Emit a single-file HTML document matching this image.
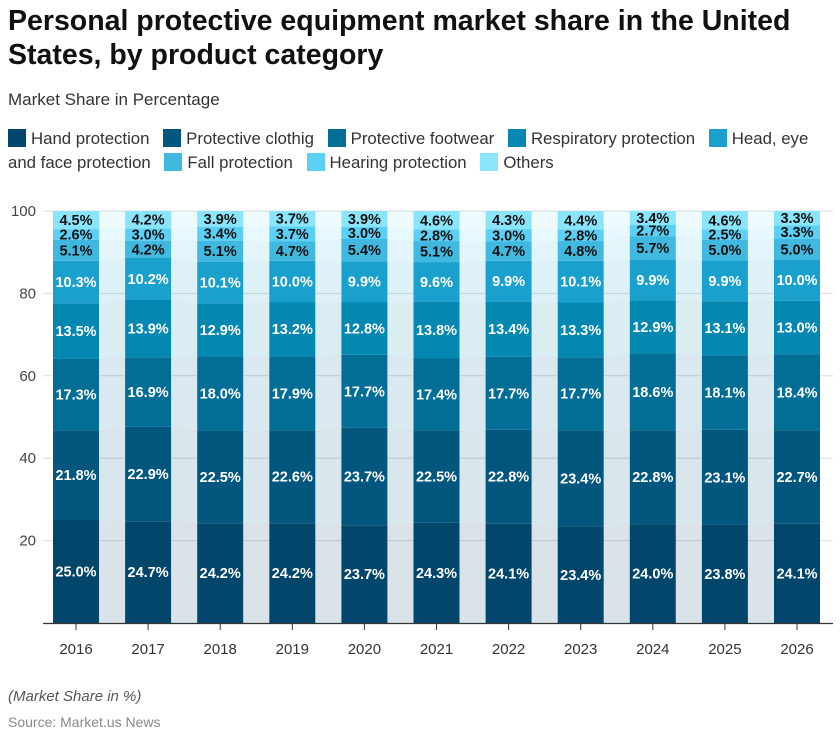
<!DOCTYPE html>
<html><head><meta charset="utf-8"><style>
body{margin:0;width:840px;height:742px;background:#fff;font-family:"Liberation Sans",sans-serif;overflow:hidden;position:relative}
.t{position:absolute;left:8px;top:4px;font-size:28.5px;font-weight:bold;color:#111;line-height:34px;width:830px}
.sub{position:absolute;left:8px;top:90px;font-size:17px;color:#333}
.lg{position:absolute;left:8px;top:127px;width:830px;font-size:16.8px;color:#333;line-height:24px}
.lg span.s{display:inline-block;width:18px;height:18px;vertical-align:-3px;margin-right:5px}
.lg i{font-style:normal;margin-right:9px}
.note{position:absolute;left:8px;top:688px;font-size:15px;font-style:italic;color:#555}
.src{position:absolute;left:8px;top:714px;font-size:14px;color:#888}
</style></head><body>
<div class="t">Personal protective equipment market share in the United States, by product category</div>
<div class="sub">Market Share in Percentage</div>
<div class="lg">
<i><span class="s" style="background:#02466b"></span>Hand protection</i>
<i><span class="s" style="background:#03577f"></span>Protective clothig</i>
<i><span class="s" style="background:#026e96"></span>Protective footwear</i>
<i><span class="s" style="background:#0487b0"></span>Respiratory protection</i>
<i><span class="s" style="background:#1aa0cc"></span>Head, eye and face protection</i>
<i><span class="s" style="background:#40b8e0"></span>Fall protection</i>
<i><span class="s" style="background:#5ccff5"></span>Hearing protection</i>
<i><span class="s" style="background:#8ae5fb"></span>Others</i>
</div>
<svg id="c" width="840" height="742" style="position:absolute;left:0;top:0" font-family="Liberation Sans, sans-serif"></svg>
<div class="note">(Market Share in %)</div>
<div class="src">Source: Market.us News</div>
<script>
var cols=["#02466b","#03577f","#026e96","#0487b0","#1aa0cc","#40b8e0","#5ccff5","#8ae5fb"];
var d=[[25.0,21.8,17.3,13.5,10.3,5.1,2.6,4.5],[24.7,22.9,16.9,13.9,10.2,4.2,3.0,4.2],[24.2,22.5,18.0,12.9,10.1,5.1,3.4,3.9],[24.2,22.6,17.9,13.2,10.0,4.7,3.7,3.7],[23.7,23.7,17.7,12.8,9.9,5.4,3.0,3.9],[24.3,22.5,17.4,13.8,9.6,5.1,2.8,4.6],[24.1,22.8,17.7,13.4,9.9,4.7,3.0,4.3],[23.4,23.4,17.7,13.3,10.1,4.8,2.8,4.4],[24.0,22.8,18.6,12.9,9.9,5.7,2.7,3.4],[23.8,23.1,18.1,13.1,9.9,5.0,2.5,4.6],[24.1,22.7,18.4,13.0,10.0,5.0,3.3,3.3]];
var y0=623,k=4.12,x0=53,st=72.1,w=46,s="";
function Y(v){return y0-v*k}
for(var g=1;g<=5;g++){var yy=Y(g*20);s+='<line x1="43" x2="833" y1="'+yy+'" y2="'+yy+'" stroke="#ddd"/>';s+='<text x="36" y="'+(yy+5)+'" text-anchor="end" font-size="15" fill="#444">'+(g*20)+'</text>';}
var cum=d.map(function(r){var c=[0],t=0;r.forEach(function(v){t+=v;c.push(t)});c[8]=100;return c});
for(var i=0;i<10;i++){var a=x0+i*st+w,b=x0+(i+1)*st;for(var j=0;j<8;j++){s+='<polygon points="'+a+','+Y(cum[i][j])+' '+b+','+Y(cum[i+1][j])+' '+b+','+Y(cum[i+1][j+1])+' '+a+','+Y(cum[i][j+1])+'" fill="'+cols[j]+'" fill-opacity="0.15"/>';}}
for(var i=0;i<11;i++){var x=x0+i*st;for(var j=0;j<8;j++){var t=Y(cum[i][j+1]),bt=Y(cum[i][j]);s+='<rect x="'+x+'" y="'+t+'" width="'+w+'" height="'+(bt-t)+'" fill="'+cols[j]+'"/>';}
for(var j=0;j<8;j++){var cy=(Y(cum[i][j])+Y(cum[i][j+1]))/2+5;s+='<text x="'+(x+w/2)+'" y="'+cy+'" text-anchor="middle" font-size="14.5" font-weight="bold" fill="'+(j<5?'#fff':'#111')+'">'+d[i][j].toFixed(1)+'%</text>';}
s+='<line x1="'+(x+w/2)+'" x2="'+(x+w/2)+'" y1="623" y2="630" stroke="#333"/>';s+='<text x="'+(x+w/2)+'" y="654" text-anchor="middle" font-size="15" fill="#333">'+(2016+i)+'</text>';}
s+='<line x1="43" x2="833" y1="623.5" y2="623.5" stroke="#333" stroke-width="1.2"/>';
document.getElementById("c").innerHTML=s;
</script>
</body></html>
